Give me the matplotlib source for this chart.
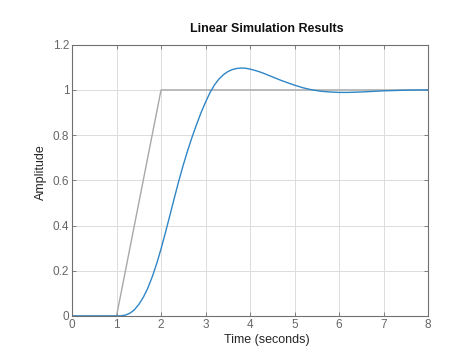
import matplotlib
matplotlib.use("Agg")
import matplotlib.pyplot as plt

# input signal (ramp from 1 s to 2 s, then held)
t_in = [0, 1, 2, 8]
u_in = [0, 0, 1, 1]

# simulated output
t_out = [0, 1.0, 1.1, 1.2, 1.3, 1.4, 1.5, 1.6, 1.7, 1.8, 1.9, 2.0,
         2.1, 2.2, 2.3, 2.4, 2.5, 2.6, 2.7, 2.8, 2.9, 3.0,
         3.1, 3.2, 3.3, 3.4, 3.5, 3.6, 3.7, 3.8, 3.9, 4.0,
         4.1, 4.2, 4.3, 4.4, 4.5, 4.6, 4.7, 4.8, 4.9, 5.0,
         5.1, 5.2, 5.4, 5.6, 5.8, 6.0, 6.2, 6.5, 7.0, 7.5, 8.0]
y_out = [0, 0, 0.0005, 0.004, 0.012, 0.027, 0.051, 0.082, 0.122, 0.172, 0.23, 0.297,
         0.37, 0.446, 0.523, 0.598, 0.668, 0.733, 0.793, 0.848, 0.9, 0.946,
         0.988, 1.022, 1.048, 1.067, 1.081, 1.09, 1.095, 1.097, 1.096, 1.092,
         1.087, 1.081, 1.074, 1.066, 1.058, 1.050, 1.042, 1.035, 1.028, 1.021,
         1.015, 1.009, 1.0, 0.994, 0.991, 0.989, 0.989, 0.991, 0.996, 0.999, 1.0]

xticks = [0, 1, 2, 3, 4, 5, 6, 7, 8]
yticks = [0, 0.2, 0.4, 0.6, 0.8, 1, 1.2]
yticklabels = ['0', '0.2', '0.4', '0.6', '0.8', '1', '1.2']

plt.rcParams['font.family'] = ['Liberation Sans', 'DejaVu Sans']

fig = plt.figure(figsize=(4.74, 3.55), dpi=100)
ax = fig.add_axes([0.152, 0.110, 0.751, 0.764])

ax.plot(t_in, u_in, color='#a8a8a8', linewidth=1.0)
ax.plot(t_out, y_out, color='#2f86c6', linewidth=1.0)

ax.set_xlim(0, 8)
ax.set_ylim(0, 1.2)
ax.set_xticks(xticks)
ax.set_yticks(yticks)
ax.set_yticklabels(yticklabels)
ax.grid(True, color='#dcdcdc', linewidth=0.7)
ax.set_axisbelow(True)

for s in ax.spines.values():
    s.set_color('#707070')
    s.set_linewidth(0.8)
ax.tick_params(direction='in', length=3, width=0.6, color='#707070',
               labelcolor='#666666', labelsize=8.5, top=True, right=True, pad=2)

ax.set_title('Linear Simulation Results', fontsize=9, fontweight='bold',
             color='#111111', x=0.548, pad=9)
ax.set_xlabel('Time (seconds)', fontsize=9, color='#262626', labelpad=0)
ax.xaxis.set_label_coords(0.548, -0.065)
ax.set_ylabel('Amplitude', fontsize=9, color='#262626')
ax.yaxis.set_label_coords(-0.07, 0.53)

fig.savefig('out.png', dpi=100)
